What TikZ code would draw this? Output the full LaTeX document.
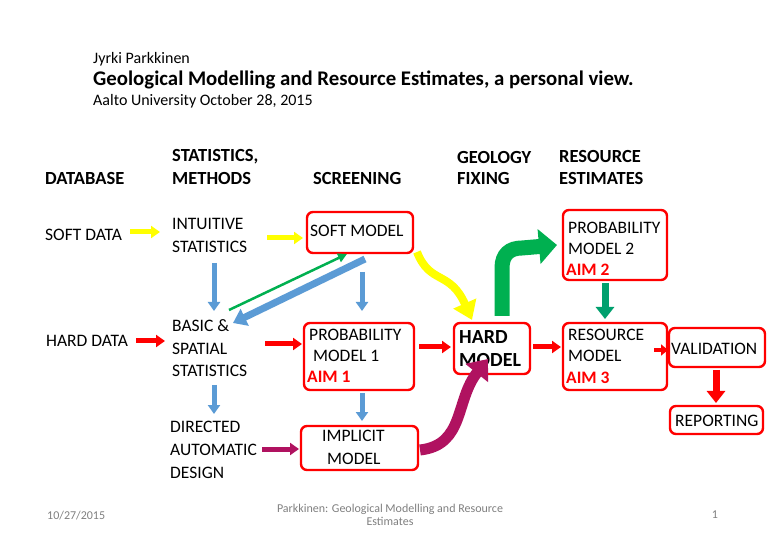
\documentclass[tikz,border=0pt]{standalone}
\usepackage{fontspec}
\setmainfont{Carlito}
\usetikzlibrary{arrows.meta}
\definecolor{ablue}{RGB}{91,155,213}
\definecolor{ared}{RGB}{255,0,0}
\definecolor{ayel}{RGB}{255,255,0}
\definecolor{agreen}{RGB}{0,176,80}
\definecolor{apurp}{RGB}{176,18,96}
\definecolor{ateal}{RGB}{0,160,110}
\begin{document}
\begin{tikzpicture}[x=1pt,y=-1pt,
 box/.style={draw=ared,line width=2.4pt,rounded corners=6pt},
 lbl/.style={anchor=west,inner sep=0pt,font=\fontsize{17.5}{19}\selectfont},
 aim/.style={anchor=west,inner sep=0pt,text=ared,font=\fontsize{17.5}{19}\selectfont\bfseries},
 hdr/.style={anchor=west,inner sep=0pt,font=\fontsize{18.5}{20}\selectfont\bfseries},
 small/.style={line width=5pt,-{Triangle[length=9pt,width=12pt]}}]
\useasboundingbox (0,0) rectangle (780,540);
\fill[white] (0,0) rectangle (780,540);
% title
\node[anchor=west,inner sep=0pt,font=\fontsize{16}{18}\selectfont] (t1) at (93,59) {Jyrki Parkkinen};
\node[anchor=west,inner sep=0pt,font=\fontsize{20.8}{23}\selectfont\bfseries] (t2) at (93,80) {Geological Modelling and Resource Estimates, a personal view.};
\node[anchor=west,inner sep=0pt,font=\fontsize{16}{18}\selectfont] (t3) at (93,101) {Aalto University October 28, 2015};
% headers
\node[hdr] (h1) at (45,178) {DATABASE};
\node[hdr] (h2) at (172,157) {STATISTICS,};
\node[hdr] (h2b) at (172,178) {METHODS};
\node[hdr] (h3) at (313,178) {SCREENING};
\node[hdr] (h4) at (457,157) {GEOLOGY};
\node[hdr] (h4b) at (457,178) {FIXING};
\node[hdr] (h5) at (559,157) {RESOURCE};
\node[hdr] (h5b) at (559,178) {ESTIMATES};
% left labels
\node[lbl] (sd) at (45,235) {SOFT DATA};
\node[lbl] (hd) at (46,341) {HARD DATA};
\node[lbl] (is1) at (172,224) {INTUITIVE};
\node[lbl] (is2) at (172,247) {STATISTICS};
\node[lbl] (bs1) at (172,326) {BASIC \&};
\node[lbl] (bs2) at (172,349) {SPATIAL};
\node[lbl] (bs3) at (172,371) {STATISTICS};
\node[lbl] (da1) at (170,427) {DIRECTED};
\node[lbl] (da2) at (170,450) {AUTOMATIC};
\node[lbl] (da3) at (170,473) {DESIGN};
% boxes
\draw[box] (307,212) rectangle (413,253);
\node[lbl] (sm) at (310,231) {SOFT MODEL};
\draw[box] (304,323) rectangle (414,390);
\node[lbl] (pm1a) at (309,335) {PROBABILITY};
\node[lbl] (pm1b) at (313,356) {MODEL 1};
\node[aim] (aim1) at (307,377) {AIM 1};
\draw[box] (301,426) rectangle (418,470);
\node[lbl] (im1) at (322,436) {IMPLICIT};
\node[lbl] (im2) at (327,459) {MODEL};
\draw[box] (454,323) rectangle (530,374);
\node[lbl,font=\fontsize{20}{22}\selectfont\bfseries] (hm1) at (459,337) {HARD};
\node[lbl,font=\fontsize{20}{22}\selectfont\bfseries] (hm2) at (459,360) {MODEL};
\draw[box] (563,210) rectangle (667,280);
\node[lbl] (p2a) at (568,228) {PROBABILITY};
\node[lbl] (p2b) at (568,249) {MODEL 2};
\node[aim] (aim2) at (566,270) {AIM 2};
\draw[box] (563,323) rectangle (667,390);
\node[lbl] (rma) at (568,335) {RESOURCE};
\node[lbl] (rmb) at (568,356) {MODEL};
\node[aim] (aim3) at (566,378) {AIM 3};
\draw[box] (669,328) rectangle (765,367);
\node[lbl] (val) at (671,349) {VALIDATION};
\draw[box] (670,406) rectangle (763,434);
\node[lbl] (rep) at (675,421) {REPORTING};
% straight arrows
\coordinate (a1) at (130,232); \coordinate (a2) at (160,232);
\draw[small,ayel] (a1) -- (a2);
\coordinate (b1) at (136,341); \coordinate (b2) at (165,341);
\draw[small,ared] (b1) -- (b2);
\coordinate (c1) at (267,238); \coordinate (c2) at (303,238);
\draw[small,ayel] (c1) -- (c2);
\coordinate (d1) at (214,263); \coordinate (d2) at (214,311);
\draw[small,ablue] (d1) -- (d2);
\coordinate (e1) at (214,385); \coordinate (e2) at (214,414);
\draw[small,ablue] (e1) -- (e2);
\coordinate (f1) at (265,344); \coordinate (f2) at (302,344);
\draw[small,ared] (f1) -- (f2);
\coordinate (g1) at (262,449); \coordinate (g2) at (299,449);
\draw[small,apurp] (g1) -- (g2);
\coordinate (h1c) at (362,272); \coordinate (h2c) at (362,311);
\draw[small,ablue] (h1c) -- (h2c);
\coordinate (i1) at (362,393); \coordinate (i2) at (362,421);
\draw[small,ablue] (i1) -- (i2);
\coordinate (j1) at (229,310); \coordinate (j2) at (347,254);
\draw[agreen,line width=2.5pt,-{Triangle[length=9pt,width=9pt]}] (j1) -- (j2);
\coordinate (k1) at (365,259); \coordinate (k2) at (233,323);
\draw[ablue,line width=7pt,-{Triangle[length=13pt,width=18pt]}] (k1) -- (k2);
\coordinate (l1) at (419,347); \coordinate (l2) at (451,347);
\draw[small,ared] (l1) -- (l2);
\coordinate (m1) at (533,347); \coordinate (m2) at (561,347);
\draw[small,ared] (m1) -- (m2);
\coordinate (n1) at (654,350); \coordinate (n2) at (668,350);
\draw[ared,line width=4pt,-{Triangle[length=7pt,width=11pt]}] (n1) -- (n2);
\coordinate (o1) at (716,370); \coordinate (o2) at (716,403);
\draw[ared,line width=7pt,-{Triangle[length=12pt,width=18pt]}] (o1) -- (o2);
\coordinate (p1) at (605,283); \coordinate (p2) at (605,319);
\draw[ateal,line width=7pt,-{Triangle[length=12pt,width=18pt]}] (p1) -- (p2);
% curved arrows
\coordinate (q1) at (417,252); \coordinate (q2) at (472,320);
\draw[ayel,line width=8pt,-{Triangle[length=18pt,width=24pt]}] (q1) .. controls (430,285) and (450,270) .. (q2);
\coordinate (r1) at (420,450); \coordinate (r2) at (488,359);
\draw[apurp,line width=11pt,-{Triangle[length=18pt,width=28pt]}] (r1) .. controls (465,445) and (455,400) .. (r2);
\coordinate (s1) at (502,316); \coordinate (s2) at (557,245);
\draw[agreen,line width=15pt,-{Triangle[length=18pt,width=34pt]}] (s1) -- (502,268) .. controls (502,254) and (510,248) .. (522,248) -- (s2);
% footer
\node[anchor=west,inner sep=0pt,text=gray,font=\fontsize{12}{14}\selectfont] (f_d) at (47,516) {10/27/2015};
\node[align=center,inner sep=0pt,text=gray,font=\fontsize{12}{13}\selectfont] (f_t) at (390,515) {Parkkinen: Geological Modelling and Resource\\Estimates};
\node[inner sep=0pt,text=gray,font=\fontsize{12}{14}\selectfont] (f_n) at (715,515) {1};
\end{tikzpicture}
\end{document}
